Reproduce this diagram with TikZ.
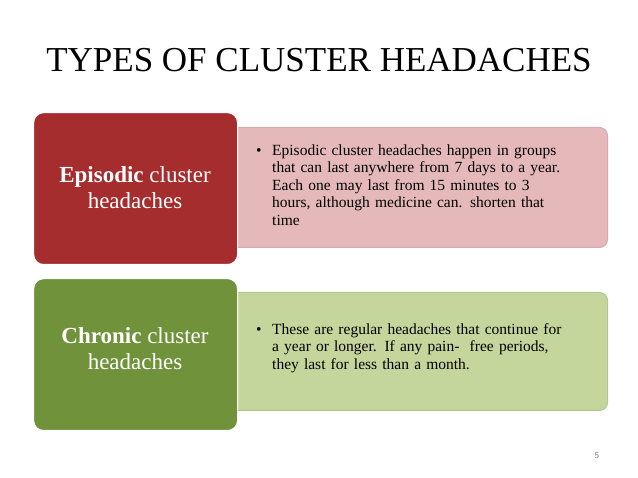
\documentclass[tikz,border=0pt]{standalone}
\usepackage{fontspec}
\setmainfont{Liberation Serif}
\begin{document}
\begin{tikzpicture}[x=1pt,y=-1pt,
  lbox/.style={draw=white,line width=1.2pt,rounded corners=10pt,anchor=north west,inner sep=0pt},
  rbox/.style={draw=#1,line width=1pt,rounded corners=8pt,anchor=north west,inner sep=0pt},
  body/.style={anchor=north west, align=left, text width=298pt, font=\fontsize{15.5}{17.5}\selectfont, inner sep=0pt},
  blt/.style={anchor=north west, font=\fontsize{15.5}{17.5}\selectfont, inner sep=0pt},
  lab/.style={text=white, align=center, font=\fontsize{23}{26}\selectfont}]
\useasboundingbox (0,0) rectangle (638,478);
\definecolor{redd}{RGB}{165,45,45}
\definecolor{pinkk}{RGB}{229,185,185}
\definecolor{greenn}{RGB}{112,146,58}
\definecolor{lgreen}{RGB}{196,214,155}
\node (title) at (319,60) {\fontsize{35}{38}\selectfont TYPES OF CLUSTER HEADACHES};
\node[rbox=pinkk!80!gray, fill=pinkk, minimum width=377pt, minimum height=120pt] (p1) at (230,127) {};
\node[lbox, fill=redd, minimum width=204pt, minimum height=152pt] (e) at (33,112) {};
\node[lab] (et) at (135,188) {\textbf{Episodic} cluster\\headaches};
\node[blt] (b1) at (256,143) {\strut\textbullet};
\node[body] (pt1) at (272,143)
  {\strut Episodic cluster headaches happen in groups that can last anywhere from 7 days to a year. Each one may last from 15 minutes to 3 hours, although medicine can. shorten that time};
\node[rbox=lgreen!80!gray, fill=lgreen, minimum width=377pt, minimum height=118pt] (p2) at (230,292) {};
\node[lbox, fill=greenn, minimum width=204pt, minimum height=152pt] (c) at (33,278) {};
\node[lab] (ct) at (135,349) {\textbf{Chronic} cluster\\headaches};
\node[blt] (b2) at (256,322) {\strut\textbullet};
\node[body] (pt2) at (272,322)
  {\strut These are regular headaches that continue for a year or longer. If any pain-\ \ free periods, they last for less than a month.};
\node[font=\fontsize{9}{10}\selectfont\sffamily, text=gray] (n) at (597,456) {5};
\end{tikzpicture}
\end{document}
